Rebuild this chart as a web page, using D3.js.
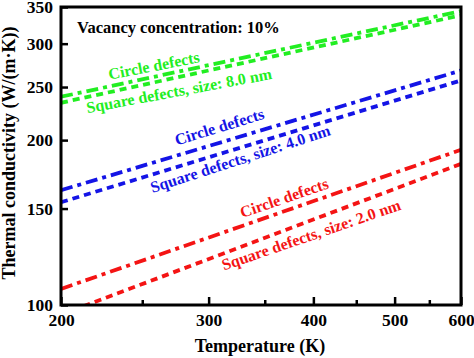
<!DOCTYPE html>
<html><head><meta charset="utf-8">
<script src="https://cdn.jsdelivr.net/npm/d3@7"></script>
<style>body{margin:0;background:#fff}svg{display:block}text{font-family:"Liberation Serif","Times New Roman",serif;font-weight:bold}</style>
</head><body>
<script>
const temps = [200, 600];
const greenCircle = [240, 344];
const greenSquare = [234, 338];
const blueCircle = [162, 268];
const blueSquare = [154, 257];
const redCircle = [107, 192];
const redSquare = [96, 181];
const xTicks = [200, 300, 400, 500, 600];
const xMinor = [250, 350, 450, 550];
const yTicks = [100, 150, 200, 250, 300, 350];

const W = 474, H = 358;
const m = {l: 61, r: 461, t: 7, b: 305};
const svg = d3.select("body").append("svg").attr("width", W).attr("height", H);
const x = d3.scaleLog().domain([200, 600]).range([m.l, m.r]);
const y = d3.scaleLog().domain([100, 350]).range([m.b, m.t]);

svg.append("clipPath").attr("id","c").append("rect")
  .attr("x", m.l).attr("y", m.t).attr("width", m.r-m.l).attr("height", m.b-m.t);

const GREEN = "#22ee22", BLUE = "#1414e6", RED = "#f41414";
const series = [
  {v: greenCircle, c: GREEN, d: "12,5,4,5"},
  {v: greenSquare, c: GREEN, d: "7,5"},
  {v: blueCircle, c: BLUE, d: "12,5,4,5"},
  {v: blueSquare, c: BLUE, d: "7,5"},
  {v: redCircle, c: RED, d: "12,5,4,5"},
  {v: redSquare, c: RED, d: "7,5"}
];
const line = d3.line().x(d => x(d[0])).y(d => y(d[1]));
const g = svg.append("g").attr("clip-path", "url(#c)");
series.forEach(s => {
  g.append("path").attr("d", line(temps.map((t,i) => [t, s.v[i]])))
    .attr("fill","none").attr("stroke", s.c).attr("stroke-width", 3.8)
    .attr("stroke-dasharray", s.d);
});

// axes
const xAx = svg.append("g").attr("transform", `translate(0,${m.b})`)
  .call(d3.axisBottom(x).tickValues(xTicks).tickFormat(d3.format("d")).tickSizeInner(-8).tickSizeOuter(0).tickPadding(8));
xAx.select(".domain").remove();
xAx.selectAll(".tick line").attr("stroke","#000").attr("stroke-width",2.5);
xAx.selectAll(".tick text").attr("font-size", 17.5).attr("fill","#000").attr("dy","0.72em");
const xMin = svg.append("g").attr("transform", `translate(0,${m.b})`)
  .call(d3.axisBottom(x).tickValues(xMinor).tickFormat("").tickSizeInner(-5).tickSizeOuter(0));
xMin.select(".domain").remove();
xMin.selectAll(".tick line").attr("stroke","#000").attr("stroke-width",2.5);

const yAx = svg.append("g").attr("transform", `translate(${m.l},0)`)
  .call(d3.axisLeft(y).tickValues(yTicks).tickFormat(d3.format("d")).tickSizeInner(-7).tickSizeOuter(0).tickPadding(8));
yAx.select(".domain").remove();
yAx.selectAll(".tick line").attr("stroke","#000").attr("stroke-width",2.5);
yAx.selectAll(".tick text").attr("font-size", 17.5).attr("fill","#000");

svg.append("rect").attr("x", m.l).attr("y", m.t).attr("width", m.r-m.l).attr("height", m.b-m.t)
  .attr("fill","none").attr("stroke","#000").attr("stroke-width",3);

svg.append("text").attr("x", 260).attr("y", 352).attr("text-anchor","middle").attr("font-size",18).text("Temperature (K)");
svg.append("text").attr("transform","translate(15,153) rotate(-90)").attr("text-anchor","middle").attr("font-size",18)
  .text("Thermal conductivity (W/(m·K))");

svg.append("text").attr("x", 77).attr("y", 33).attr("font-size", 16.5).text("Vacancy concentration: 10%");

const labels = [
  {t:"Circle defects", x:155, y:71, a:-11, c:GREEN},
  {t:"Square defects, size: 8.0 nm", x:180, y:96, a:-10.5, c:GREEN},
  {t:"Circle defects", x:221, y:132, a:-17, c:BLUE},
  {t:"Square defects, size: 4.0 nm", x:242, y:164, a:-18, c:BLUE},
  {t:"Circle defects", x:286, y:203, a:-19, c:RED},
  {t:"Square defects, size: 2.0 nm", x:313, y:240, a:-19, c:RED}
];
labels.forEach(l => {
  svg.append("text").attr("transform", `translate(${l.x},${l.y}) rotate(${l.a})`)
    .attr("text-anchor","middle").attr("font-size",16).attr("fill", l.c).text(l.t);
});
</script>
</body></html>
